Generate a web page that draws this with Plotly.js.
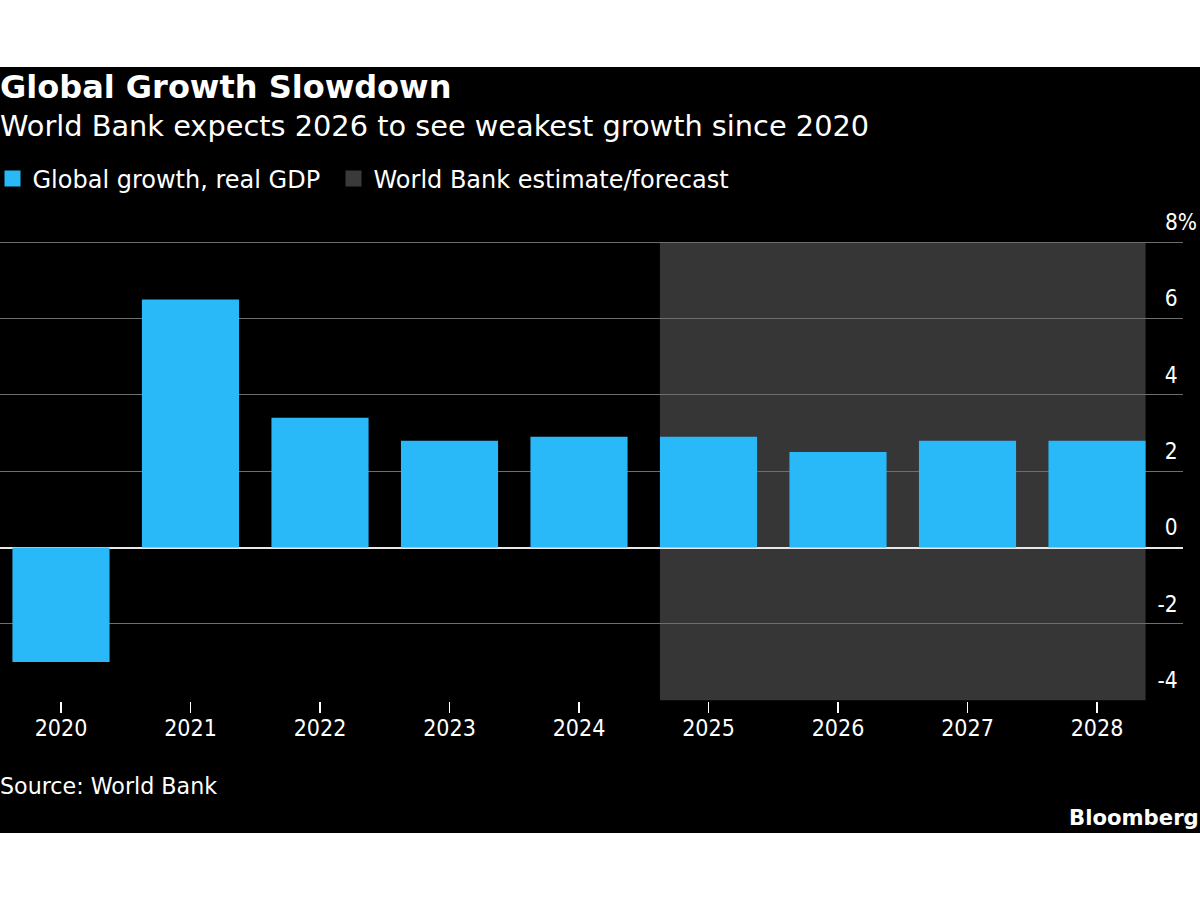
<!DOCTYPE html>
<html>
<head>
<meta charset="utf-8">
<script src="https://cdn.plot.ly/plotly-3.0.1.min.js"></script>
<style>
  html, body { margin: 0; padding: 0; background: #ffffff; }
  #chart { width: 1200px; height: 900px; }
</style>
</head>
<body>
<div id="chart"></div>
<script>
// ---- Data ----
const years = ['2020', '2021', '2022', '2023', '2024', '2025', '2026', '2027', '2028'];
const growth = [-3.0, 6.5, 3.4, 2.8, 2.9, 2.9, 2.5, 2.8, 2.8];
const forecastStart = '2025';
const forecastEnd = '2028';
const yTickVals = [-4, -2, 0, 2, 4, 6, 8];
const yTickLabels = ['-4', '-2', '0', '2', '4', '6', '8'];
const yTopSuffix = '%';
const seriesName = 'Global growth, real GDP';
const shadeName = 'World Bank estimate/forecast';

// ---- Style ----
const FONT = '"DejaVu Sans", "Noto Sans", sans-serif';
const TICKFONT = '"DejaVu Sans Condensed", "DejaVu Sans", "Noto Sans", sans-serif';
const BOLD = '"DejaVu Sans", "Noto Sans", sans-serif';
const BAR = '#29b9f9';
const SHADE = '#363636';
const halfBar = 0.375;

const i0 = years.indexOf(forecastStart);
const i1 = years.indexOf(forecastEnd);

// the "%" only shows on the top label; others get an invisible one to keep numbers aligned
const yTickText = yTickLabels.map((t, k) =>
  k === yTickLabels.length - 1 ? t + yTopSuffix
    : t + '<span style="color:rgba(0,0,0,0)">' + yTopSuffix + '</span>');

// plot area geometry (pixels)
const T = 204, B = 199, R = 17, H = 900 - T - B, W = 1200 - R;
const bottomPx = 900 - B;
const py = p => (bottomPx - p) / H;          // pixel row -> paper y
const px = p => p / W;                       // pixel column -> paper x

const traces = [
  {
    type: 'bar', x: years, y: growth, name: seriesName,
    marker: { color: BAR }, showlegend: false, hoverinfo: 'x+y'
  },
  {
    type: 'scatter', mode: 'markers', x: [null], y: [null], name: seriesName,
    marker: { symbol: 'square', size: 16, color: BAR }, showlegend: true, legend: 'legend'
  },
  {
    type: 'scatter', mode: 'markers', x: [null], y: [null], name: shadeName,
    marker: { symbol: 'square', size: 16, color: '#3a3a3a' }, showlegend: true, legend: 'legend2'
  }
];

const legendBase = {
  orientation: 'h', xanchor: 'left', xref: 'paper',
  yanchor: 'middle', yref: 'paper', y: py(179),
  font: { family: FONT, size: 24, color: '#ffffff' },
  bgcolor: 'rgba(0,0,0,0)', borderwidth: 0,
  itemclick: false, itemdoubleclick: false
};

const layout = {
  width: 1200, height: 900, autosize: false,
  margin: { l: 0, r: R, t: T, b: B, pad: 0, autoexpand: false },
  paper_bgcolor: '#ffffff',
  plot_bgcolor: 'rgba(0,0,0,0)',
  bargap: 0.25,
  font: { family: FONT, color: '#ffffff', size: 22 },
  title: {
    text: '<b>Global Growth Slowdown</b>',
    font: { family: BOLD, size: 32, color: '#ffffff' },
    x: 0, xref: 'paper', xanchor: 'left',
    y: 1 - 87 / 900, yref: 'container', yanchor: 'middle'
  },
  xaxis: {
    type: 'category',
    range: [-0.471, 8.664],
    showgrid: false, zeroline: false, showline: false,
    ticks: 'outside', ticklen: 11, tickwidth: 1.5, tickcolor: '#ffffff',
    ticklabelstandoff: -5,
    tickfont: { family: TICKFONT, size: 23, color: '#ffffff' },
    fixedrange: true
  },
  yaxis: {
    side: 'right',
    range: [-4.02, 9],
    tickvals: yTickVals, ticktext: yTickText,
    ticklabelposition: 'inside',
    ticklabelshift: -20,
    ticklabelstandoff: -17,
    ticks: '',
    showgrid: true, gridcolor: '#6e6e6e', gridwidth: 1.2,
    zeroline: true, zerolinecolor: '#e8e8e8', zerolinewidth: 2,
    showline: false,
    tickfont: { family: TICKFONT, size: 22.5, color: '#ffffff' },
    fixedrange: true
  },
  legend: Object.assign({}, legendBase, { x: px(-7.5) }),
  legend2: Object.assign({}, legendBase, { x: px(333.5) }),
  shapes: [
    {
      type: 'rect', xref: 'paper', yref: 'paper', layer: 'below',
      x0: 0, x1: px(1200), y0: py(833), y1: py(67),
      fillcolor: '#000000', line: { width: 0 }
    },
    {
      type: 'rect', xref: 'x', yref: 'y', layer: 'below',
      x0: i0 - halfBar, x1: i1 + halfBar, y0: -4, y1: 8,
      fillcolor: SHADE, line: { width: 0 }
    }
  ],
  annotations: [
    {
      text: 'World Bank expects 2026 to see weakest growth since 2020',
      xref: 'paper', yref: 'paper', x: px(-2), xanchor: 'left',
      y: py(126), yanchor: 'middle', showarrow: false,
      font: { family: FONT, size: 28.8, color: '#ffffff' }
    },
    {
      text: 'Source: World Bank',
      xref: 'paper', yref: 'paper', x: px(-2), xanchor: 'left',
      y: py(786), yanchor: 'middle', showarrow: false,
      font: { family: FONT, size: 22.2, color: '#ffffff' }
    },
    {
      text: '<b>Bloomberg</b>',
      xref: 'paper', yref: 'paper', x: px(1201), xanchor: 'right',
      y: py(817), yanchor: 'middle', showarrow: false,
      font: { family: BOLD, size: 21.2, color: '#ffffff' }
    }
  ]
};

Plotly.newPlot('chart', traces, layout, { displayModeBar: false, staticPlot: true });
</script>
</body>
</html>
